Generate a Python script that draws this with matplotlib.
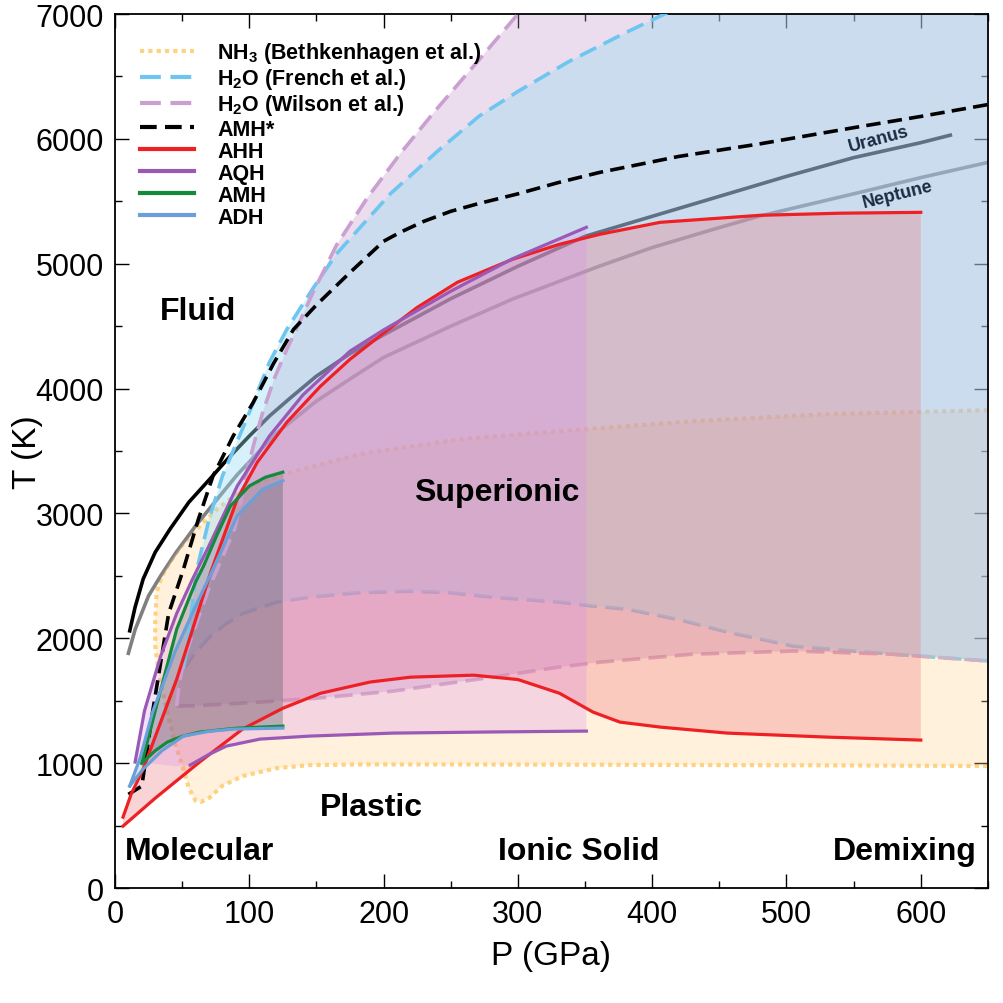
import numpy as np
import matplotlib
matplotlib.use("Agg")
import matplotlib.pyplot as plt
from matplotlib.ticker import MultipleLocator

plt.rcParams['font.family'] = ['Liberation Sans', 'DejaVu Sans']
plt.rcParams['mathtext.fontset'] = 'custom'
plt.rcParams['mathtext.rm'] = 'Liberation Sans:bold'
plt.rcParams['mathtext.bf'] = 'Liberation Sans:bold'

# ---- data (P in GPa, T in K) ----
uranus_p = [11, 15, 21, 30, 41, 55, 71, 85, 100, 115, 130, 150, 175, 200, 250, 300, 350, 400, 450, 500, 550, 600, 622]
uranus_t = [2060, 2250, 2475, 2690, 2875, 3090, 3280, 3450, 3620, 3780, 3920, 4100, 4280, 4430, 4720, 4980, 5220, 5380, 5540, 5700, 5850, 5970, 6030]

neptune_p = [10, 15, 25, 34, 45, 60, 75, 91, 120, 150, 177, 200, 250, 296, 331, 361, 400, 450, 480, 550, 600, 650]
neptune_t = [1880, 2070, 2340, 2500, 2680, 2900, 3100, 3310, 3640, 3900, 4091, 4250, 4500, 4717, 4860, 4982, 5130, 5290, 5382, 5560, 5690, 5812]

amhs_p = [10, 20, 28, 40, 51, 62, 73, 88, 103, 118, 133, 150, 175, 200, 212, 230, 250, 270, 300, 330, 361, 420, 480, 550, 600, 651]
amhs_t = [750, 817, 1409, 2200, 2554, 2950, 3300, 3620, 3890, 4200, 4475, 4670, 4930, 5180, 5250, 5340, 5420, 5480, 5560, 5650, 5732, 5860, 5960, 6090, 6180, 6277]

french_up_p = [51, 55, 61, 70, 80, 98, 115, 128, 147, 165, 205, 240, 271, 300, 338, 380, 415, 500, 700]
french_up_t = [1753, 2050, 2554, 2950, 3300, 3755, 4211, 4475, 4796, 5080, 5560, 5900, 6181, 6380, 6620, 6850, 7030, 7400, 8200]
french_lo_p = [51, 60, 71, 83, 95, 120, 145, 180, 220, 250, 281, 331, 356, 381, 420, 456, 505, 579, 651, 700]
french_lo_t = [1753, 1890, 2018, 2120, 2200, 2290, 2330, 2365, 2378, 2365, 2330, 2290, 2258, 2234, 2150, 2050, 1938, 1873, 1818, 1800]

wilson_up_p = [46, 48, 52, 60, 70, 80, 89, 93, 98, 104, 110, 119, 128, 135, 147, 165, 188, 213, 238, 270, 300, 330, 700]
wilson_up_t = [1457, 1650, 1850, 2100, 2400, 2650, 2874, 3058, 3331, 3580, 3810, 4091, 4315, 4475, 4760, 5150, 5530, 5890, 6220, 6620, 7000, 7380, 9000]
wilson_lo_p = [46, 60, 108, 150, 207, 281, 331, 361, 430, 505, 579, 651, 700]
wilson_lo_t = [1457, 1460, 1489, 1520, 1577, 1689, 1770, 1809, 1873, 1898, 1873, 1818, 1800]

# NH3 boundary as a closed outline (lower branch right->left, loop, upper branch left->right)
nh3_p = [700, 650, 550, 450, 350, 250, 180, 145, 120, 95, 80, 70, 64, 60, 55, 51, 45, 39, 33, 30, 30, 31,
         35, 41, 48, 56, 66, 76, 90, 105, 128, 182, 257, 331, 430, 530, 650, 700]
nh3_t = [975, 977, 982, 985, 988, 990, 990, 985, 960, 897, 820, 720, 690, 700, 800, 953, 1150, 1409, 1700, 1938, 2150, 2370,
         2500, 2610, 2720, 2818, 2930, 3035, 3150, 3240, 3320, 3475, 3595, 3659, 3739, 3795, 3827, 3840]

ahh_up_p = [6, 12, 21, 46, 71, 91, 106, 128, 153, 175, 197, 225, 255, 296, 331, 361, 406, 480, 540, 600]
ahh_up_t = [568, 750, 953, 1673, 2520, 3115, 3411, 3731, 4019, 4235, 4420, 4650, 4852, 5036, 5156, 5236, 5332, 5388, 5405, 5412]
ahh_lo_p = [6, 30, 63, 95, 125, 153, 190, 220, 267, 300, 331, 356, 376, 406, 456, 530, 600]
ahh_lo_t = [496, 720, 1009, 1273, 1440, 1560, 1650, 1689, 1705, 1670, 1560, 1409, 1329, 1289, 1241, 1209, 1185]

aqh_up_p = [15, 22, 34, 46, 58, 70, 91, 115, 140, 175, 200, 250, 296, 351]
aqh_up_t = [1009, 1420, 1857, 2200, 2480, 2740, 3219, 3620, 3950, 4300, 4470, 4780, 5040, 5292]
aqh_lo_p = [15, 30, 45, 56, 70, 83, 108, 145, 207, 280, 351]
aqh_lo_t = [1009, 995, 975, 985, 1070, 1137, 1193, 1217, 1241, 1250, 1257]

amh_up_p = [20, 30, 46, 60, 66, 76, 86, 100, 112, 125]
amh_up_t = [1000, 1420, 2074, 2450, 2580, 2830, 3060, 3220, 3290, 3331]
amh_lo_p = [20, 30, 39, 50, 63, 90, 125]
amh_lo_t = [1000, 1100, 1169, 1215, 1249, 1280, 1297]

adh_up_p = [11, 19, 28, 45, 58, 73, 91, 110, 125]
adh_up_t = [817, 1050, 1409, 1900, 2210, 2554, 2980, 3195, 3262]
adh_lo_p = [11, 21, 35, 51, 70, 88, 125]
adh_lo_t = [817, 953, 1100, 1217, 1255, 1273, 1281]


def outline(up_p, up_t, lo_p, lo_t):
    return (np.concatenate([up_p, lo_p[::-1]]), np.concatenate([up_t, lo_t[::-1]]))


fig = plt.figure(figsize=(10.04, 10.04), dpi=100)
ax = fig.add_axes([0.1145, 0.1145, 0.8695, 0.8705])

dash = (0, (5, 2.3))
# lines that sit under the fills
ax.plot(nh3_p, nh3_t, color='#ffd27f', lw=3, ls=(0, (1, 1)), zorder=1)
ax.plot(french_lo_p, french_lo_t, color='#6ec6f0', lw=2.6, ls=dash, zorder=1)
ax.plot(wilson_lo_p, wilson_lo_t, color='#c9a0d0', lw=2.6, ls=dash, zorder=1)
ax.plot(uranus_p, uranus_t, color='black', lw=2.6, zorder=1)
ax.plot(neptune_p, neptune_t, color='#808080', lw=2.6, zorder=1)

# fills
ax.fill(nh3_p, nh3_t, color='#ffd28c', alpha=0.3, lw=0, zorder=2)
ax.fill(*outline(wilson_up_p, wilson_up_t, wilson_lo_p, wilson_lo_t), color='#be8cc8', alpha=0.3, lw=0, zorder=2)
ax.fill(*outline(french_up_p, french_up_t, french_lo_p, french_lo_t), color='#9bdcf3', alpha=0.4, lw=0, zorder=2)
ax.fill(*outline(ahh_up_p, ahh_up_t, ahh_lo_p, ahh_lo_t), color='#ee7378', alpha=0.3, lw=0, zorder=2)
ax.fill(*outline(aqh_up_p, aqh_up_t, aqh_lo_p, aqh_lo_t), color='#d986ec', alpha=0.25, lw=0, zorder=2)
ax.fill(*outline(amh_up_p, amh_up_t, amh_lo_p, amh_lo_t), color='#4e5e4e', alpha=0.2, lw=0, zorder=2)
ax.fill(*outline(adh_up_p, adh_up_t, adh_lo_p, adh_lo_t), color='#4a5a80', alpha=0.18, lw=0, zorder=2)

# lines on top
ax.plot(french_up_p, french_up_t, color='#6ec6f0', lw=2.6, ls=dash, zorder=3)
ax.plot(wilson_up_p, wilson_up_t, color='#c9a0d0', lw=2.6, ls=dash, zorder=3)
ax.plot(amhs_p, amhs_t, color='black', lw=2.6, ls=(0, (4, 2)), zorder=4)
ax.plot(ahh_up_p, ahh_up_t, color='#ee2024', lw=2.3, zorder=5)
ax.plot(ahh_lo_p, ahh_lo_t, color='#ee2024', lw=2.3, zorder=5)
ax.plot(aqh_up_p, aqh_up_t, color='#9b59b6', lw=2.3, zorder=5)
ax.plot(aqh_lo_p[3:], aqh_lo_t[3:], color='#9b59b6', lw=2.3, zorder=5)
ax.plot(amh_up_p, amh_up_t, color='#138a3c', lw=2.3, zorder=5)
ax.plot(amh_lo_p, amh_lo_t, color='#138a3c', lw=2.3, zorder=5)
ax.plot(adh_up_p, adh_up_t, color='#6a9fd8', lw=2.3, zorder=5)
ax.plot(adh_lo_p, adh_lo_t, color='#6a9fd8', lw=2.3, zorder=5)

# legend proxies
handles = [
    ax.plot([], [], color='#ffd27f', lw=3, ls=(0, (1, 1)))[0],
    ax.plot([], [], color='#6ec6f0', lw=3, ls=dash)[0],
    ax.plot([], [], color='#c9a0d0', lw=3, ls=dash)[0],
    ax.plot([], [], color='black', lw=3, ls=(0, (4, 2)))[0],
    ax.plot([], [], color='#ee2024', lw=3)[0],
    ax.plot([], [], color='#9b59b6', lw=3)[0],
    ax.plot([], [], color='#138a3c', lw=3)[0],
    ax.plot([], [], color='#6a9fd8', lw=3)[0],
]
labels = [r'NH$_3$ (Bethkenhagen et al.)', r'H$_2$O (French et al.)', r'H$_2$O (Wilson et al.)',
          'AMH*', 'AHH', 'AQH', 'AMH', 'ADH']
ax.legend(handles, labels, loc='upper left', bbox_to_anchor=(0.0286, 0.97), frameon=False,
          prop={'weight': 'bold', 'size': 15.5}, handlelength=2.5, handletextpad=1.1,
          labelspacing=0.05, borderpad=0, borderaxespad=0)

# region labels
lab = dict(fontsize=23, fontweight='bold', ha='center', va='center', zorder=6)
ax.text(62, 4620, 'Fluid', **lab)
ax.text(284, 3170, 'Superionic', **lab)
ax.text(191, 650, 'Plastic', **lab)
ax.text(63, 296, 'Molecular', **lab)
ax.text(345, 296, 'Ionic Solid', **lab)
ax.text(588, 296, 'Demixing', **lab)
ax.text(569, 6000, 'Uranus', fontsize=13, fontweight='bold', color='#1b2a41',
        rotation=15, ha='center', va='center', zorder=6)
ax.text(583, 5556, 'Neptune', fontsize=13, fontweight='bold', color='#1b2a41',
        rotation=14, ha='center', va='center', zorder=6)

ax.set_xlim(0, 650)
ax.set_ylim(0, 7000)
ax.xaxis.set_major_locator(MultipleLocator(100))
ax.xaxis.set_minor_locator(MultipleLocator(50))
ax.yaxis.set_major_locator(MultipleLocator(1000))
ax.yaxis.set_minor_locator(MultipleLocator(500))
ax.tick_params(which='both', direction='in', top=True, right=True, width=1, labelsize=22, pad=8)
ax.tick_params(which='major', length=10)
ax.tick_params(which='minor', length=5)
for s in ax.spines.values():
    s.set_linewidth(1.3)
ax.set_xlabel('P (GPa)', fontsize=24, labelpad=8)
ax.set_ylabel('T (K)', fontsize=24)
ax.yaxis.set_label_coords(-0.082, 0.5)

fig.savefig('out.png', dpi=100)
